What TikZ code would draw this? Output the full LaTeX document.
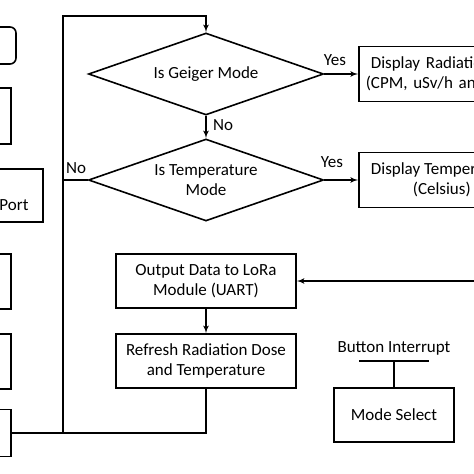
\documentclass[tikz,border=0pt]{standalone}
\usepackage{fontspec}
\setmainfont{Carlito}
\usetikzlibrary{shapes.geometric,arrows,positioning}

\begin{document}
\begin{tikzpicture}[x=1pt,y=-1pt,font=\fontsize{17}{20}\selectfont,line width=1.6pt,
	box/.style={draw,rectangle,inner sep=0pt,align=center},
	decide/.style={draw,diamond,inner sep=0pt,minimum width=235pt,minimum height=82pt,shape aspect=2.9,align=center}]
	\useasboundingbox (0,0) rectangle (474,474);
	\clip (0,0) rectangle (474,474);
	% decisions
	\node[decide] (geig) at (206,74) {Is Geiger Mode};
	\node[decide] (temp) at (206,180) {Is Temperature\\Mode};
	\node[box,anchor=west,text width=150pt,align=left,inner xsep=7pt,minimum height=55pt] (rad) at (358,74) {\hspace{5pt}Display Radiation\\(CPM, uSv/h and};
	\node[box,anchor=west,minimum width=166pt,minimum height=55pt] (tmpd) at (358,180) {Display Temperature\\(Celsius)};
	% output part
	\node[box,minimum width=180pt,minimum height=54pt] (outp) at (206,281) {Output Data to LoRa\\Module (UART)};
	\node[box,minimum width=180pt,minimum height=54pt] (refr) at (206,361) {Refresh Radiation Dose\\and Temperature};
	\node(btn) at (394,348) {Button Interrupt};
	\node[box,minimum width=120pt,minimum height=54pt] (mode) at (394,415) {Mode Select};
	% left column
	\node[box,rounded corners=6pt,minimum width=60pt,minimum height=37pt] (l1) at (-14,45.5) {};
	\node[box,minimum width=60pt,minimum height=56pt] (l2) at (-19,116) {};
	\node[box,minimum width=100pt,minimum height=53pt] (l3) at (-7,195.5) {};
	\node(port) at (14,205) {Port};
	\node[box,minimum width=60pt,minimum height=55pt] (l4) at (-19,281.5) {};
	\node[box,minimum width=60pt,minimum height=55pt] (l5) at (-19,361.5) {};
	\node[box,minimum width=60pt,minimum height=47pt] (l6) at (-19,433) {};
	% labels
	\node(yes1) at (335,60) {Yes};
	\node(yes2) at (332,162) {Yes};
	\node(no1) at (223,125) {No};
	\node(no2) at (76,168) {No};
	\coordinate (ltop) at (63,16);
	\coordinate (lbot) at (63,433);
	\coordinate (rin) at (480,281);
	\coordinate (bl) at (359,361);
	\coordinate (br) at (429,361);
	\draw[-latex'] (refr.south) |- (lbot) -- (ltop) -| (geig.north);
	\draw (l6.east) -- (lbot);
	\draw (temp.west) -- (temp.west -| lbot);
	\draw[-latex'] (geig.south) -- (temp.north);
	\draw[-latex'] (geig.east) -- (rad.west);
	\draw[-latex'] (temp.east) -- (tmpd.west);
	\draw[-latex'] (outp.south) -- (refr.north);
	\draw[-latex'] (rin) -- (outp.east);
	\draw (bl) -- (br);
	\draw (mode.north |- bl) -- (mode.north);
\end{tikzpicture}
\end{document}
